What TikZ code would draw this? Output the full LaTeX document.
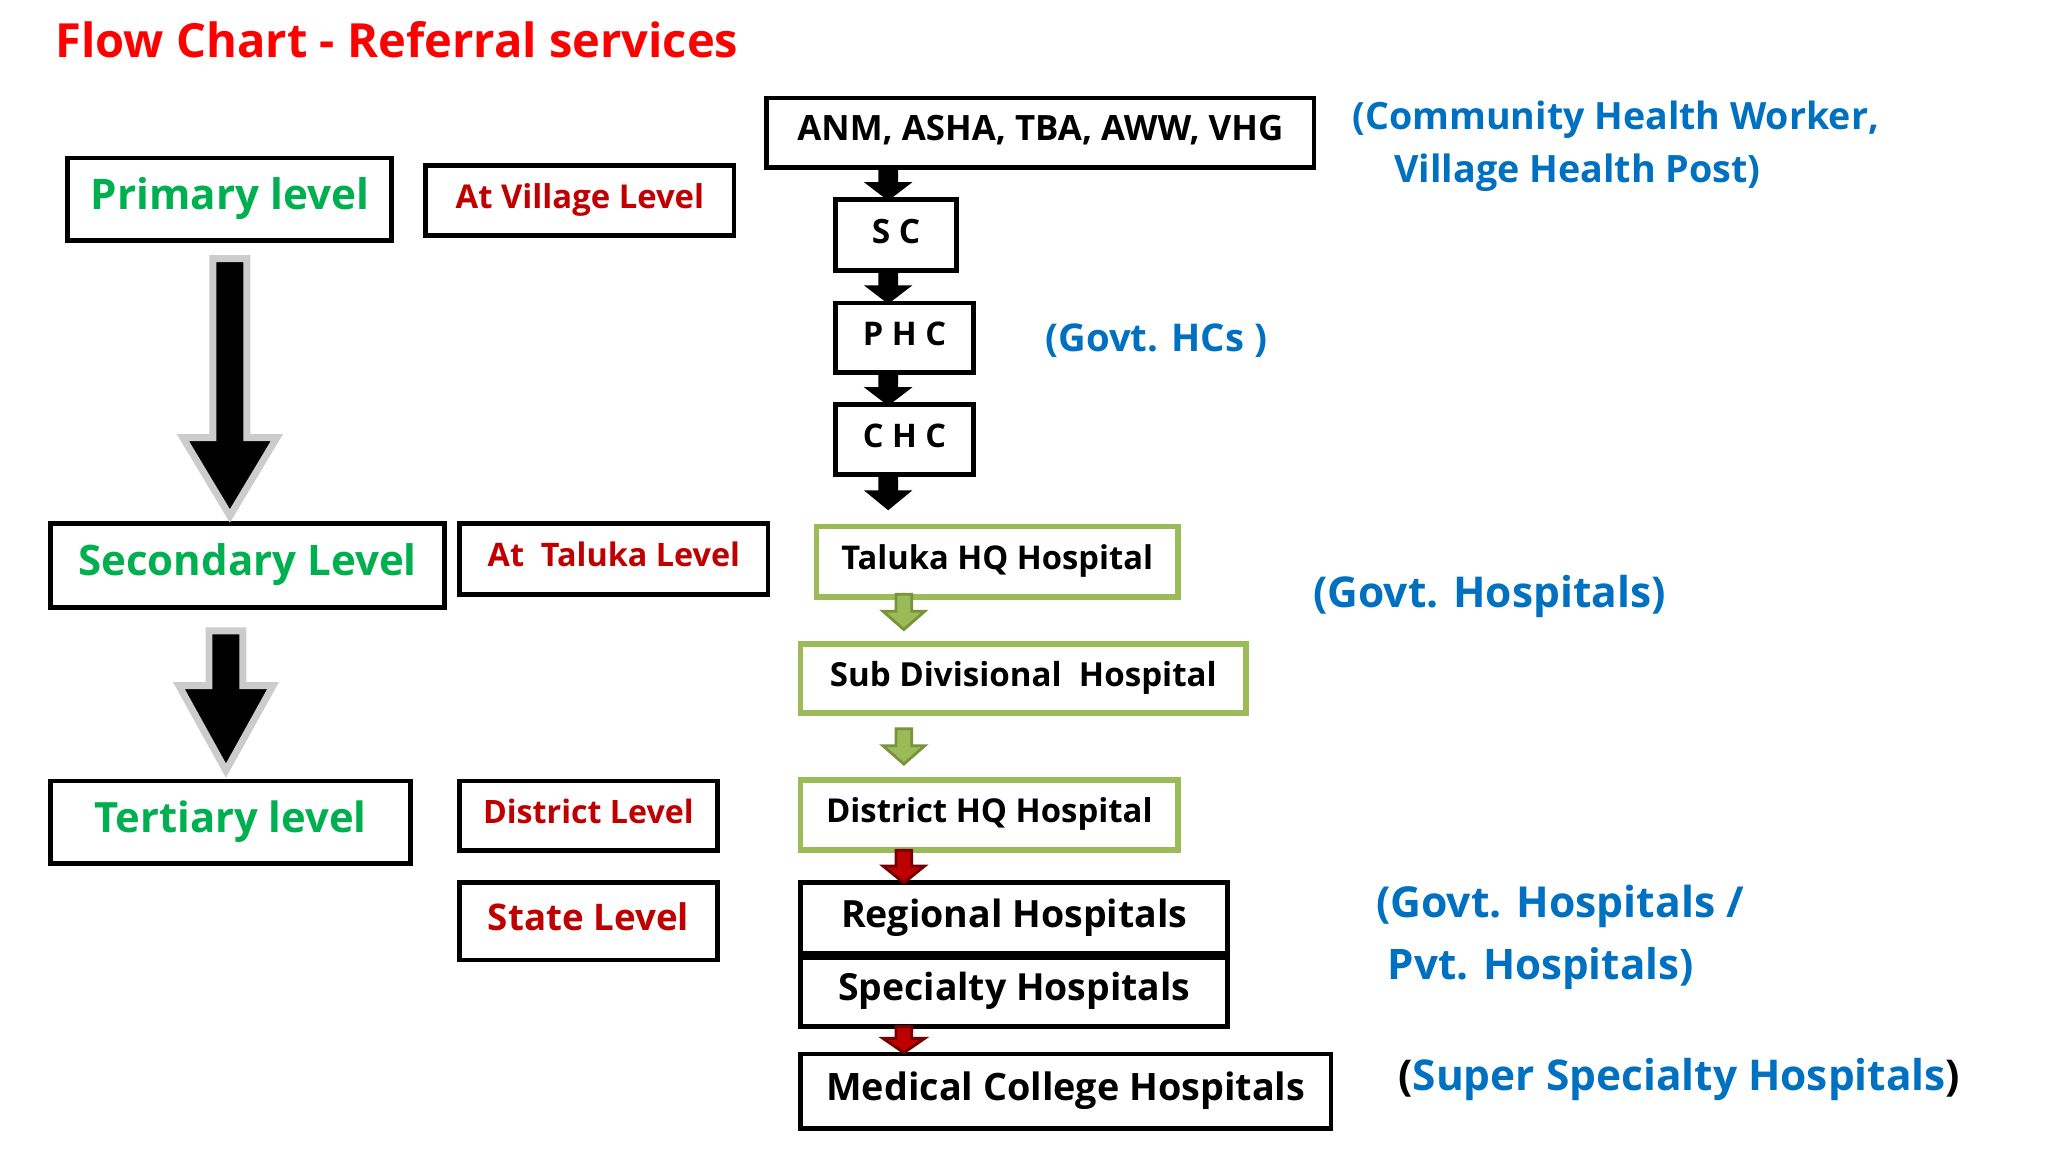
\documentclass[tikz,border=0pt]{standalone}
\usepackage{fontspec}
\setmainfont{Open Sans}
\usepackage{graphicx}
\definecolor{tred}{HTML}{FF0000}
\definecolor{dred}{HTML}{C00000}
\definecolor{tgreen}{HTML}{00B050}
\definecolor{tblue}{HTML}{0070C0}
\definecolor{bgreen}{HTML}{9BBB59}
\definecolor{agreen}{HTML}{77933C}
\newcommand\bx[7]{\pgfmathsetmacro\bw{(#4-#2)*0.0132}\pgfmathsetmacro\bh{(#5-#3)*0.0132}%
\node[#6,minimum width=\bw cm,minimum height=\bh cm] (#1) at ({(#2+#4)/2},{(#3+#5)/2}) {#7};}
\newcommand\tw[2]{\resizebox{#1cm}{!}{\strut\bfseries #2}}
\newcommand\barr[7]{\draw[#7] (#1-#4,#2) -- (#1+#4,#2) -- (#1+#4,#3-#6) -- (#1+#5,#3-#6) -- (#1,#3) -- (#1-#5,#3-#6) -- (#1-#4,#3-#6) -- cycle;}
\tikzset{
 bbox/.style={draw=black,line width=1.4pt,inner sep=0pt},
 gbox/.style={draw=bgreen,line width=1.6pt,inner sep=0pt},
 lbl/.style={anchor=west,inner sep=0pt},
 blk/.style={fill=black},
 big/.style={fill=black,draw=black!20,line width=2pt,line join=miter},
 grn/.style={fill=bgreen,draw=agreen,line width=0.8pt},
 rdd/.style={fill=red!75!black,draw=dred!60!black,line width=0.8pt},
}
\begin{document}
\begin{tikzpicture}[x=0.0132cm,y=-0.0132cm]
\useasboundingbox[fill=white] (0,0) rectangle (1568,882);
\node[lbl,text=tred] (title) at (42,35) {\tw{6.90}{Flow Chart - Referral services}};
% left level boxes
\bx{prim}{52}{121}{300}{184}{bbox,text=tgreen}{\tw{2.81}{Primary level}}
\bx{sec}{39}{401}{340}{465}{bbox,text=tgreen}{\tw{3.42}{Secondary Level}}
\bx{ter}{39}{598}{314}{661}{bbox,text=tgreen}{\tw{2.75}{Tertiary level}}
\bx{vil}{326}{127}{562}{180}{bbox,text=dred}{\tw{2.51}{At Village Level}}
\bx{tal}{352}{401}{588}{455}{bbox,text=dred}{\tw{2.55}{At~~Taluka Level}}
\bx{dis}{352}{598}{549}{651}{bbox,text=dred}{\tw{2.13}{District Level}}
\bx{sta}{352}{676}{549}{735}{bbox,text=dred}{\tw{2.03}{State Level}}
% chain
\bx{anm}{587}{75}{1006}{128}{bbox}{\tw{4.91}{ANM, ASHA, TBA, AWW, VHG}}
\bx{sc}{640}{153}{732}{207}{bbox}{\tw{0.49}{S C}}
\bx{phc}{640}{232}{745}{285}{bbox}{\tw{0.84}{P H C}}
\bx{chc}{640}{310}{745}{363}{bbox}{\tw{0.84}{C H C}}
\bx{thq}{625}{403}{902}{457}{gbox}{\tw{3.15}{Taluka HQ Hospital}}
\bx{sdh}{613}{493}{954}{546}{gbox}{\tw{3.91}{Sub Divisional~~Hospital}}
\bx{dhq}{613}{597}{902}{651}{gbox}{\tw{3.30}{District HQ Hospital}}
\bx{reg}{613}{676}{940}{730}{bbox}{\tw{3.50}{Regional Hospitals}\hspace{0.35cm}}
\bx{spe}{613}{733}{940}{786}{bbox}{\tw{3.56}{Specialty Hospitals}}
\bx{mch}{613}{807}{1019}{864}{bbox}{\tw{4.84}{Medical College Hospitals}}
% blue notes
\node[lbl,text=tblue] (n1) at (1035,92) {\tw{5.32}{(Community Health Worker,}};
\node[lbl,text=tblue] (n2) at (1067,133) {\tw{3.70}{Village Health Post)}};
\node[lbl,text=tblue] (n3) at (800,262) {\tw{2.24}{(Govt. HCs )}};
\node[lbl,text=tblue] (n4) at (1005,457) {\tw{3.56}{(Govt. Hospitals)}};
\node[lbl,text=tblue] (n5) at (1053,695) {\tw{3.72}{(Govt. Hospitals /}};
\node[lbl,text=tblue] (n6) at (1062,742) {\tw{3.09}{Pvt. Hospitals)}};
\node[lbl] (n7) at (1070,827) {\tw{5.68}{(\textcolor{tblue}{Super Specialty Hospitals})}};
% big arrows
\barr{176}{198}{395}{13}{36}{60}{big}
\barr{173}{483}{590}{13}{36}{65}{big}
% small black arrows
\barr{680}{128}{153}{7}{17}{13}{blk}
\barr{680}{207}{232}{7}{17}{13}{blk}
\barr{680}{285}{310}{7}{17}{13}{blk}
\barr{680}{363}{390}{7}{17}{14}{blk}
% green
\barr{692}{455}{482}{6}{16}{14}{grn}
\barr{692}{558}{585}{6}{16}{14}{grn}
% red
\barr{692}{651}{676}{6}{16}{13}{rdd}
\barr{692}{786}{806}{6}{16}{11}{rdd}
\end{tikzpicture}
\end{document}
